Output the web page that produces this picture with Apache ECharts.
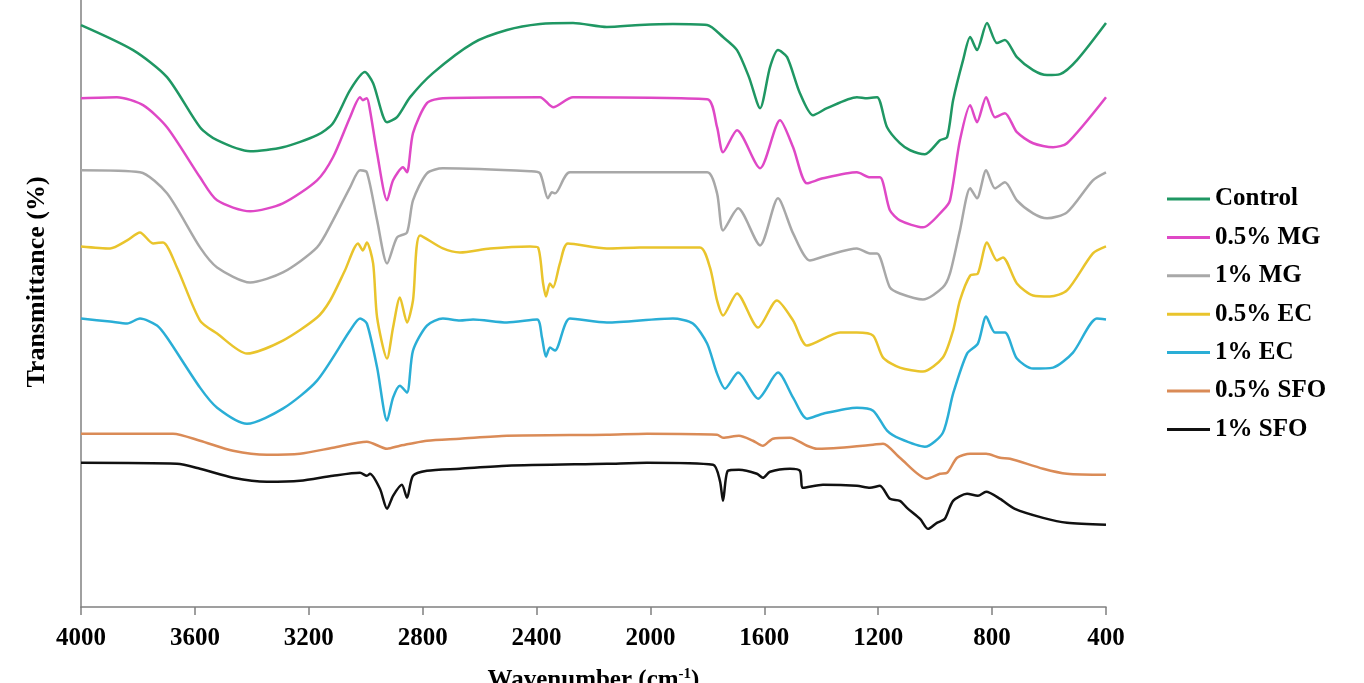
<!DOCTYPE html>
<html>
<head>
<meta charset="utf-8">
<script src="https://cdn.jsdelivr.net/npm/echarts@6/dist/echarts.min.js"></script>
<style>
html,body{margin:0;padding:0;background:#fff;}
#chart{width:1364px;height:683px;}
</style>
</head>
<body>
<div id="chart"></div>
<script>
// Series names (legend order)
var seriesNames = ['Control', '0.5% MG', '1% MG', '0.5% EC', '1% EC', '0.5% SFO', '1% SFO'];
var seriesColors = ['#1f9763', '#df48c6', '#a8a8a8', '#e9c42c', '#2aaed6', '#da8b57', '#111111'];

// X axis tick labels (wavenumber, cm-1)
var xTicks = [4000, 3600, 3200, 2800, 2400, 2000, 1600, 1200, 800, 400];

// [wavenumber, transmittance (arbitrary offset units)]
var control = [[4000,581],[3817,556],[3698,529],[3582,479],[3522,466],[3406,455],[3291,459],[3171,471],[3115,483],[3055,516],[3003,534],[2974,523],[2925,484],[2890,489],[2844,509],[2764,533],[2623,563],[2504,576],[2388,582],[2272,583],[2153,579],[2037,581],[1921,582],[1801,581],[1745,569],[1696,556],[1654,529],[1615,498],[1580,539],[1552,556],[1520,549],[1475,513],[1429,491],[1380,498],[1275,509],[1239,508],[1204,509],[1169,479],[1124,463],[1088,456],[1036,452],[983,466],[958,469],[937,506],[902,546],[877,569],[853,556],[818,583],[783,563],[755,566],[713,549],[656,536],[607,531],[561,532],[502,546],[400,583]];

var mg05 = [[4000,508],[3874,509],[3782,501],[3698,479],[3582,429],[3522,406],[3406,395],[3291,403],[3171,426],[3115,449],[3055,489],[3020,509],[3010,506],[2996,508],[2985,496],[2960,453],[2925,406],[2904,426],[2869,439],[2855,434],[2834,473],[2785,503],[2729,508],[2388,509],[2342,499],[2272,509],[1801,507],[1766,479],[1745,454],[1696,476],[1615,438],[1545,486],[1499,459],[1450,423],[1394,428],[1275,434],[1229,429],[1194,429],[1159,396],[1124,386],[1043,379],[973,396],[948,406],[913,466],[877,501],[853,484],[821,509],[790,489],[755,493],[713,474],[656,463],[586,459],[537,463],[400,509]];

var mg1 = [[4000,436],[3793,434],[3698,413],[3582,359],[3522,339],[3406,324],[3291,334],[3171,359],[3115,386],[3055,419],[3020,436],[2996,434],[2960,386],[2925,343],[2890,369],[2855,374],[2834,406],[2785,433],[2729,438],[2423,435],[2388,433],[2360,408],[2346,414],[2335,413],[2283,434],[1801,434],[1766,413],[1745,376],[1692,398],[1615,361],[1552,408],[1499,373],[1440,346],[1380,351],[1275,358],[1229,353],[1204,353],[1159,319],[1124,313],[1043,307],[973,319],[948,333],[913,376],[877,418],[853,408],[821,436],[790,418],[755,424],[713,406],[656,393],[607,388],[537,394],[446,426],[400,434]];

var ec05 = [[4000,360],[3898,358],[3838,366],[3793,374],[3747,363],[3712,364],[3663,339],[3582,286],[3522,273],[3417,253],[3291,266],[3171,289],[3125,306],[3073,336],[3027,363],[3010,356],[2996,364],[2974,343],[2960,289],[2925,248],[2904,279],[2880,309],[2855,284],[2834,306],[2809,371],[2729,358],[2669,354],[2563,358],[2423,360],[2395,359],[2377,323],[2367,310],[2353,323],[2342,319],[2318,343],[2290,363],[2153,358],[2037,359],[1826,359],[1791,339],[1766,306],[1745,291],[1696,313],[1622,279],[1556,306],[1499,286],[1450,261],[1334,274],[1275,274],[1218,271],[1183,249],[1124,239],[1043,235],[973,249],[937,276],[913,306],[877,331],[850,333],[818,364],[783,346],[762,349],[713,323],[656,311],[597,310],[537,316],[446,353],[400,360]];

var ec1 = [[4000,288],[3898,285],[3838,283],[3793,288],[3733,281],[3698,269],[3582,219],[3522,199],[3417,183],[3291,198],[3171,226],[3055,276],[3020,288],[2996,283],[2960,239],[2925,186],[2904,209],[2880,221],[2855,214],[2834,256],[2785,281],[2729,288],[2669,286],[2623,287],[2504,284],[2398,287],[2381,269],[2367,250],[2353,259],[2335,256],[2283,288],[2153,284],[1921,288],[1851,283],[1801,263],[1766,233],[1738,218],[1692,234],[1622,208],[1552,234],[1499,209],[1450,188],[1394,193],[1275,199],[1218,196],[1169,176],[1124,168],[1036,160],[973,174],[937,213],[888,253],[850,263],[821,290],[790,274],[755,274],[713,248],[656,238],[586,239],[516,254],[432,288],[400,287]];

var sfo05 = [[4000,173],[3677,173],[3582,166],[3466,156],[3347,152],[3231,153],[3115,159],[2996,165],[2925,158],[2880,161],[2844,163],[2785,166],[2669,168],[2504,171],[2153,172],[2012,173],[1766,172],[1745,169],[1689,171],[1640,166],[1605,161],[1570,168],[1510,169],[1450,161],[1415,158],[1334,159],[1218,162],[1183,163],[1124,149],[1029,128],[983,133],[958,134],[923,149],[877,153],[821,153],[772,149],[737,148],[621,138],[537,133],[400,132]];

var sfo1 = [[4000,144],[3663,143],[3582,138],[3466,129],[3347,125],[3231,126],[3115,131],[3020,134],[2996,131],[2985,133],[2950,118],[2925,98],[2904,111],[2873,122],[2855,109],[2834,131],[2785,136],[2669,138],[2504,141],[2153,143],[2012,144],[1780,142],[1756,126],[1745,106],[1728,136],[1689,137],[1626,133],[1605,129],[1580,135],[1510,138],[1475,136],[1464,119],[1394,122],[1275,121],[1229,119],[1194,121],[1159,108],[1124,106],[1099,99],[1053,88],[1025,78],[994,84],[966,88],[937,106],[888,113],[850,111],[821,115],[772,108],[720,98],[621,89],[537,84],[400,82]];

var allData = [control, mg05, mg1, ec05, ec1, sfo05, sfo1];

var chart = echarts.init(document.getElementById('chart'), null, {renderer: 'canvas'});
var serif = '"Liberation Serif", "DejaVu Serif", serif';

var series = seriesNames.map(function (name, i) {
  return {
    name: name,
    type: 'line',
    data: allData[i],
    showSymbol: false,
    smooth: 0.25,
    lineStyle: {width: 2.5, color: seriesColors[i]},
    itemStyle: {color: seriesColors[i]},
    animation: false,
    z: 10 - i
  };
});

chart.setOption({
  backgroundColor: '#ffffff',
  animation: false,
  grid: {left: 81, right: 258, top: 0, bottom: 76, containLabel: false, outerBoundsMode: 'none'},
  legend: {
    orient: 'vertical',
    left: 1167,
    top: 185,
    padding: 0,
    icon: 'rect',
    itemWidth: 43,
    itemHeight: 3,
    itemGap: 10.4,
    data: seriesNames,
    textStyle: {fontFamily: serif, fontWeight: 'bold', fontSize: 25, color: '#000', lineHeight: 28}
  },
  xAxis: {
    type: 'value',
    inverse: true,
    min: 400,
    max: 4000,
    interval: 400,
    axisLine: {show: true, lineStyle: {color: '#808080', width: 1.5}},
    axisTick: {show: true, inside: false, length: 8, lineStyle: {color: '#808080', width: 1.5}},
    splitLine: {show: false},
    axisLabel: {
      margin: 19,
      fontFamily: serif, fontWeight: 'bold', fontSize: 25, color: '#000',
      formatter: function (v) { return xTicks.indexOf(v) >= 0 ? String(v) : ''; }
    },
    name: '{a|Wavenumber (cm}{s|-1}{a|)}',
    nameLocation: 'middle',
    nameGap: 60,
    nameTextStyle: {
      rich: {
        a: {fontFamily: serif, fontWeight: 'bold', fontSize: 25, color: '#000'},
        s: {fontFamily: serif, fontWeight: 'bold', fontSize: 15, color: '#000', verticalAlign: 'top', padding: [0,0,12,0]}
      }
    }
  },
  yAxis: {
    type: 'value',
    min: 0,
    max: 606,
    axisLine: {show: true, lineStyle: {color: '#808080', width: 1.5}},
    axisTick: {show: false},
    axisLabel: {show: false},
    splitLine: {show: false}
  },
  graphic: [{
    type: 'text',
    x: 37,
    y: 282,
    rotation: Math.PI / 2,
    style: {
      text: 'Transmittance (%)',
      fontFamily: serif, fontWeight: 'bold', fontSize: 26, fill: '#000',
      textAlign: 'center', textVerticalAlign: 'middle'
    }
  }],
  series: series
});
</script>
</body>
</html>
